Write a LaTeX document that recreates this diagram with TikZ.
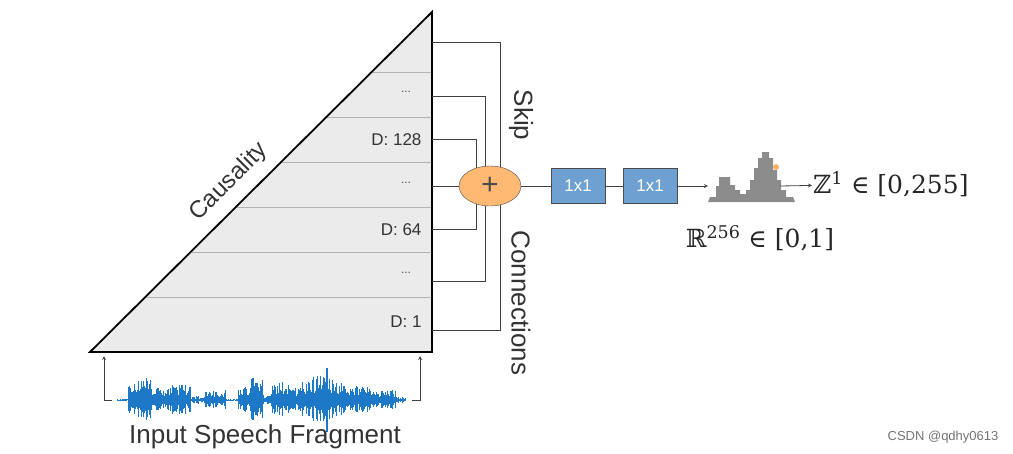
\documentclass[tikz,border=0pt]{standalone}
\usepackage{fontspec}
\setmainfont{Liberation Sans}
\newfontfamily\mf{DejaVu Serif}
\usetikzlibrary{shapes.geometric}
\definecolor{wv}{RGB}{30,120,200}
\definecolor{bx}{RGB}{110,160,210}
\begin{document}
\begin{tikzpicture}[x=1pt,y=-1pt,
  thin line/.style={draw=black!75,line width=0.8pt},
  lab/.style={font=\fontsize{17}{19}\selectfont,text=black!80},
  dots/.style={font=\fontsize{12}{14}\selectfont,text=black!70},
  big/.style={font=\fontsize{26}{30}\selectfont,text=black!80},
  mth/.style={font=\mf\fontsize{25}{28}\selectfont,text=black!85,inner sep=1pt},
  conv/.style={draw=black!70,fill=bx,minimum width=54pt,minimum height=35pt,inner sep=0pt,font=\fontsize{17}{19}\selectfont,text=white},
  wave/.style={draw=wv,line width=0.9pt}]
\useasboundingbox (0,0) rectangle (1013,453);
\fill[black!8] (90,352) -- (432,12) -- (432,352) -- cycle;
\foreach \y in {72,117,162,207,252,297}{
  \pgfmathsetmacro{\xl}{432-(\y-12)}
  \draw[black!30,line width=0.7pt] (\xl,\y) -- (432,\y);}
\draw[black,line width=1.8pt,line join=miter] (90,352) -- (432,12) -- (432,352) -- cycle;
\node[dots] (r1) at (406,92) {...};
\node[lab,anchor=east] (r2) at (425,140) {D: 128};
\node[dots] (r3) at (406,183) {...};
\node[lab,anchor=east] (r4) at (425,230) {D: 64};
\node[dots] (r5) at (406,273) {...};
\node[lab,anchor=east] (r6) at (425,322) {D: 1};
\node[big,rotate=45,font=\fontsize{24}{28}\selectfont] (caus) at (229,182) {Causality};
\coordinate (a1) at (432,42); \coordinate (a2) at (432,330);
\coordinate (b1) at (432,96); \coordinate (b2) at (432,281);
\coordinate (c1) at (432,139); \coordinate (c2) at (432,229);
\coordinate (m) at (432,186);
\draw[thin line] (a1) -- (500,42) -- (500,330) -- (a2);
\draw[thin line] (b1) -- (485,96) -- (485,281) -- (b2);
\draw[thin line] (c1) -- (476,139) -- (476,229) -- (c2);
\node[ellipse,draw=black!70,fill=orange!55,minimum width=62pt,minimum height=40pt,inner sep=0pt,font=\fontsize{30}{30}\selectfont,text=black!70] (sum) at (490,186) {+};
\draw[thin line] (m) -- (sum);
\node[big,rotate=-90] (skip) at (521,115) {Skip};
\node[big,rotate=-90] (con) at (521,303) {Connections};
\node[conv] (c1x) at (578,186) {1x1};
\node[conv] (c2x) at (650,186) {1x1};
\draw[thin line] (sum) -- (c1x);
\draw[thin line] (c1x) -- (c2x);
\coordinate (hl) at (708,186);
\fill[black!45] (708,202) -- (710,197) -- (716,197) -- (716,186) -- (719,186) -- (719,177) -- (730,177) -- (730,185) -- (735,185) -- (735,190) -- (740,190) -- (740,194) -- (746,194) -- (746,190) -- (750,190) -- (750,180) -- (754,180) -- (754,168) -- (758,168) -- (758,158) -- (762,158) -- (762,152) -- (769,152) -- (769,158) -- (773,158) -- (773,170) -- (777,170) -- (777,180) -- (781,180) -- (781,190) -- (786,190) -- (786,197) -- (793,197) -- (795,202) -- cycle;
\fill[orange!60] (776,167) circle (3pt);
\coordinate (hr) at (780,186);
\draw[thin line,-stealth] (c2x) -- (hl);
\node[mth,anchor=west] (zz) at (812,184) {ℤ\textsuperscript{1} ∈ [0,255]};
\draw[thin line,-stealth] (hr) -- (zz);
\node[mth] (rr) at (760,238) {ℝ\textsuperscript{256} ∈ [0,1]};
\pgfmathsetseed{7}
\foreach \xa/\xb/\am in {117/128/1,128/150/22,150/170/12,170/190/16,190/205/4,205/225/10,225/238/1,238/250/14,250/262/24,262/272/7,272/290/18,290/300/12,300/312/20,312/332/24,332/345/18,345/370/14,370/395/10,395/405/3}{
  \foreach \x in {\xa,...,\xb}{
    \pgfmathsetmacro{\h}{\am*(0.3+0.7*rnd)}
    \draw[wave] (\x,400-\h) -- (\x,400+\h*0.9);}}
\draw[wave,line width=1.3pt] (327,368) -- (327,432);
\coordinate (lw) at (112,400); \coordinate (rw) at (412,400);
\coordinate (lt) at (104,356); \coordinate (rt) at (420,356);
\draw[thin line,-stealth] (lw) -| (lt);
\draw[thin line,-stealth] (rw) -| (rt);
\node[font=\fontsize{26}{30}\selectfont,text=black!80] (inp) at (265,437) {Input Speech Fragment};
\node[font=\fontsize{13}{15}\selectfont,text=black!55] (csdn) at (943,437) {CSDN @qdhy0613};
\end{tikzpicture}
\end{document}
